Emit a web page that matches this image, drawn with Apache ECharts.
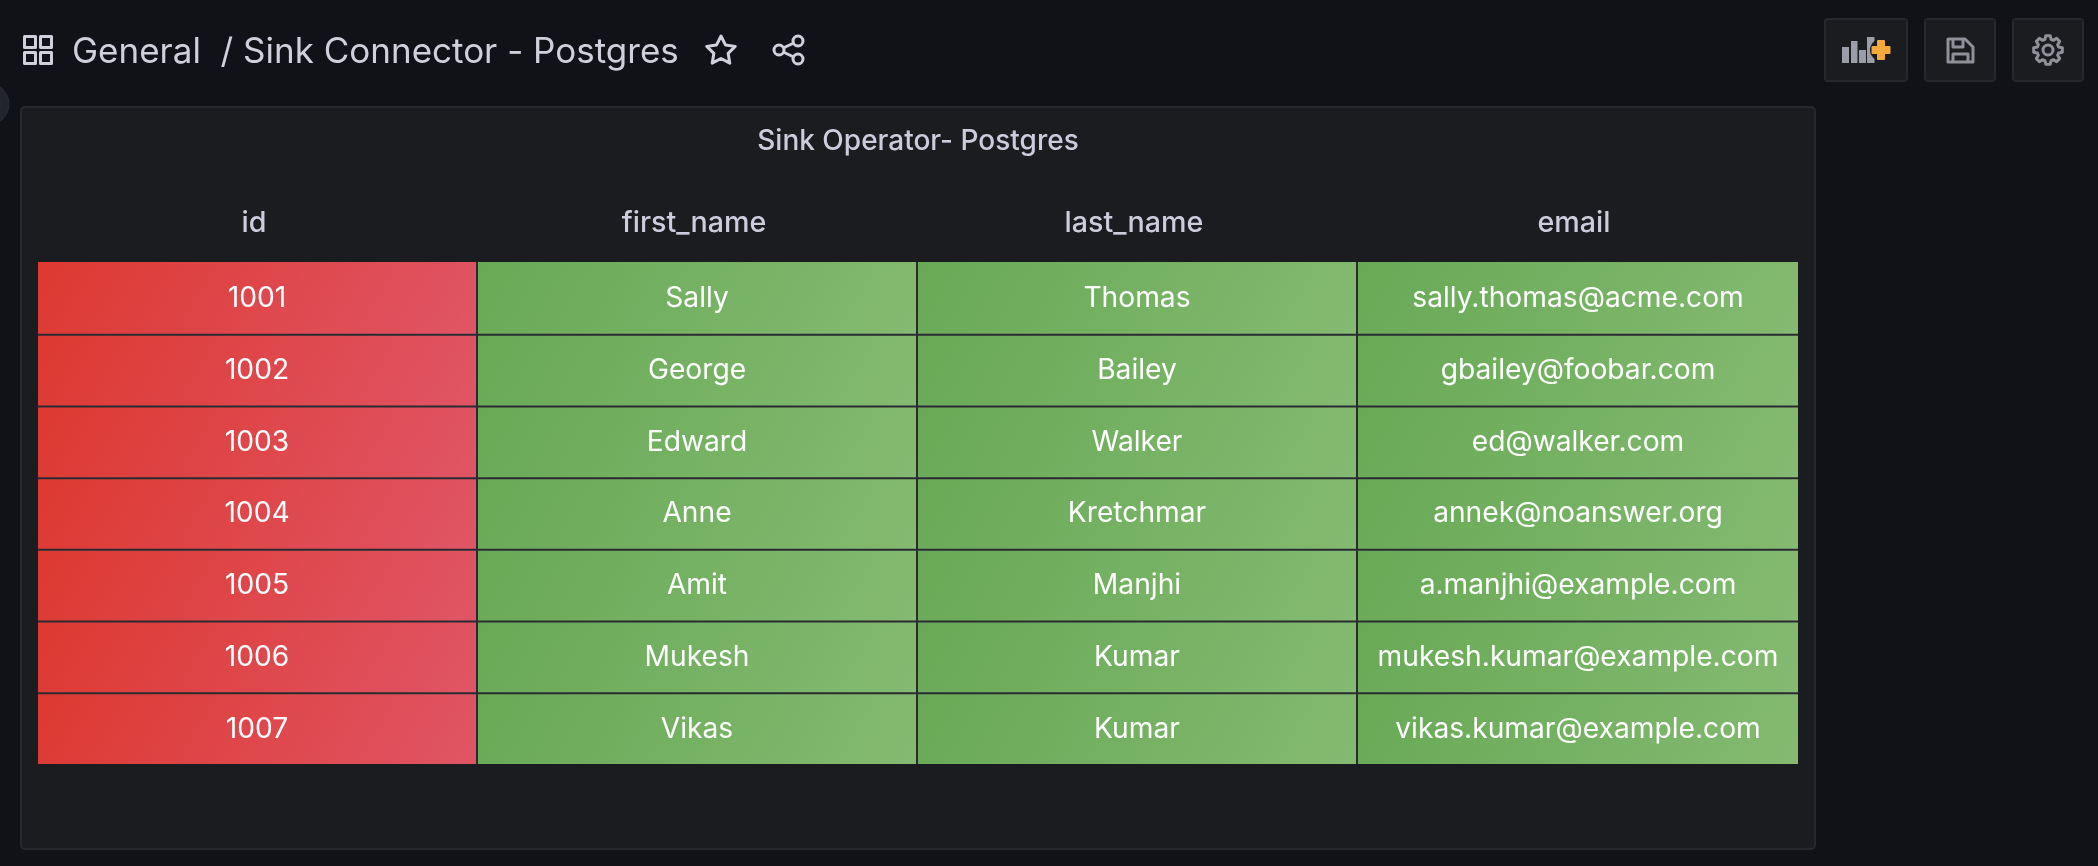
<!DOCTYPE html>
<html>
<head>
<meta charset="utf-8">
<title>Sink Connector - Postgres</title>
<script src="https://cdn.jsdelivr.net/npm/echarts@6/dist/echarts.min.js"></script>
<style>
  html, body { margin: 0; padding: 0; background: #111217; }
  #main { width: 2098px; height: 866px; }
</style>
</head>
<body>
<div id="main"></div>
<script type="text/javascript">
// table content
var columns = ['id', 'first_name', 'last_name', 'email'];
var ids = ['1001', '1002', '1003', '1004', '1005', '1006', '1007'];
var firstNames = ['Sally', 'George', 'Edward', 'Anne', 'Amit', 'Mukesh', 'Vikas'];
var lastNames = ['Thomas', 'Bailey', 'Walker', 'Kretchmar', 'Manjhi', 'Kumar', 'Kumar'];
var emails = ['sally.thomas@acme.com', 'gbailey@foobar.com', 'ed@walker.com', 'annek@noanswer.org',
  'a.manjhi@example.com', 'mukesh.kumar@example.com', 'vikas.kumar@example.com'];

var FONT = 'Inter';
var TEXT = '#ccccdc';
var ICON = '#8f9098';
var CHROME = '#1a1c20';
var EDGE = '#26282d';

// cell colours, left to right end of the gradient
var redStops = ['#dd3931', '#e05565'];
var greenStops = ['#68a956', '#84ba71'];

var rows = [ids, firstNames, lastNames, emails];
var cells = [];
rows.forEach(function (list, col) {
  list.forEach(function (text, row) {
    cells.push({ value: [col, row], text: text });
  });
});

// same as css linear-gradient(120deg, ...) for a box
function cellGradient(x, y, w, h, stops) {
  var a = 120 * Math.PI / 180;
  var half = (Math.abs(w * Math.sin(a)) + Math.abs(h * Math.cos(a))) / 2;
  var cx = x + w / 2, cy = y + h / 2;
  var dx = Math.sin(a) * half, dy = -Math.cos(a) * half;
  return new echarts.graphic.LinearGradient(cx - dx, cy - dy, cx + dx, cy + dy, [
    { offset: 0, color: stops[0] },
    { offset: 1, color: stops[1] }
  ], true);
}

function renderCell(params, api) {
  var col = api.value(0), row = api.value(1);
  var c = api.coord([col, row]);
  var size = api.size([1, 1]);
  var x = c[0] - size[0] / 2, y = c[1] - size[1] / 2;
  var w = size[0] - (col < columns.length - 1 ? 2 : 0);
  var h = size[1];
  // 2px separator above every row but the first
  if (row > 0) { y += 2; h -= 2; }
  return {
    type: 'group',
    children: [{
      type: 'rect',
      shape: { x: x, y: y, width: w, height: h },
      style: { fill: cellGradient(x, y, w, h, col === 0 ? redStops : greenStops) }
    }, {
      type: 'text',
      style: {
        text: cells[params.dataIndex].text,
        x: c[0] - (col < columns.length - 1 ? 1 : 0), y: c[1] + 1,
        align: 'center', verticalAlign: 'middle',
        fill: '#ffffff',
        font: '400 28.2px ' + FONT
      }
    }]
  };
}

function button(x, y, w, h) {
  return {
    type: 'rect', z: 1,
    shape: { x: x + 1, y: y + 1, width: w - 2, height: h - 2, r: 3 },
    style: { fill: CHROME, stroke: EDGE, lineWidth: 2 }
  };
}

function gearPoints(cx, cy, ro, ri, teeth) {
  var pts = [];
  for (var i = 0; i < teeth; i++) {
    var step = Math.PI * 2 / teeth;
    var t = i * step - Math.PI / 2;
    [[-0.30, ri], [-0.16, ro], [0.16, ro], [0.30, ri]].forEach(function (p) {
      var ang = t + p[0] * step * 1.2;
      pts.push([cx + Math.cos(ang) * p[1], cy + Math.sin(ang) * p[1]]);
    });
  }
  return pts;
}

function starPoints(cx, cy, ro, ri) {
  var pts = [];
  for (var i = 0; i < 10; i++) {
    var r = i % 2 ? ri : ro;
    var ang = -Math.PI / 2 + i * Math.PI / 5;
    pts.push([cx + Math.cos(ang) * r, cy + Math.sin(ang) * r]);
  }
  return pts;
}

var stroke = function (color, width) {
  return { fill: 'none', stroke: color, lineWidth: width, lineJoin: 'round' };
};

var graphics = [
  // panel
  { type: 'rect', z: -1, shape: { x: 21, y: 107, width: 1794, height: 742, r: 4 },
    style: { fill: CHROME, stroke: EDGE, lineWidth: 2 } },
  // side menu toggle cut by the window edge
  { type: 'circle', z: 1, shape: { cx: -12, cy: 104, r: 21 },
    style: { fill: '#22252b', stroke: '#2b2d32', lineWidth: 1 } },

  // dashboard grid icon
  { type: 'rect', shape: { x: 24.5, y: 36.5, width: 11, height: 11 }, style: stroke('#d0d0dc', 3) },
  { type: 'rect', shape: { x: 40.5, y: 36.5, width: 11, height: 11 }, style: stroke('#d0d0dc', 3) },
  { type: 'rect', shape: { x: 24.5, y: 52.5, width: 11, height: 11 }, style: stroke('#d0d0dc', 3) },
  { type: 'rect', shape: { x: 40.5, y: 52.5, width: 11, height: 11 }, style: stroke('#d0d0dc', 3) },

  // star
  { type: 'polygon', shape: { points: starPoints(721, 51, 15, 7.5) }, style: stroke('#d0d0dc', 3) },

  // share
  { type: 'line', shape: { x1: 779, y1: 50, x2: 798, y2: 41 }, style: stroke('#d0d0dc', 3) },
  { type: 'line', shape: { x1: 779, y1: 50, x2: 798, y2: 59 }, style: stroke('#d0d0dc', 3) },
  { type: 'circle', z: 2, shape: { cx: 779, cy: 50, r: 5 }, style: { fill: '#111217', stroke: '#d0d0dc', lineWidth: 3 } },
  { type: 'circle', z: 2, shape: { cx: 798, cy: 41, r: 5 }, style: { fill: '#111217', stroke: '#d0d0dc', lineWidth: 3 } },
  { type: 'circle', z: 2, shape: { cx: 798, cy: 59, r: 5 }, style: { fill: '#111217', stroke: '#d0d0dc', lineWidth: 3 } },

  // toolbar buttons
  button(1824, 18, 84, 64),
  button(1924, 18, 72, 64),
  button(2012, 18, 72, 64),

  // add panel icon
  { type: 'rect', z: 2, shape: { x: 1842, y: 47, width: 7, height: 16 }, style: { fill: '#9b9da8' } },
  { type: 'rect', z: 2, shape: { x: 1851, y: 41, width: 6.5, height: 22 }, style: { fill: '#9b9da8' } },
  { type: 'rect', z: 2, shape: { x: 1859, y: 50, width: 7, height: 13 }, style: { fill: '#9b9da8' } },
  { type: 'rect', z: 2, shape: { x: 1867, y: 37, width: 7.5, height: 26 }, style: { fill: '#9b9da8' } },
  { type: 'circle', z: 3, shape: { cx: 1881, cy: 50, r: 11 }, style: { fill: CHROME } },
  { type: 'rect', z: 4, shape: { x: 1871.5, y: 46, width: 19, height: 8, r: 1 }, style: { fill: '#f5a83c' } },
  { type: 'rect', z: 4, shape: { x: 1877, y: 40, width: 8, height: 20, r: 1 }, style: { fill: '#f5a83c' } },

  // save icon
  { type: 'polygon', z: 2, shape: { points: [[1948, 39], [1965, 39], [1973, 47], [1973, 62], [1948, 62]] },
    style: stroke(ICON, 3) },
  { type: 'polyline', z: 2, shape: { points: [[1953, 40], [1953, 47], [1963, 47], [1963, 40]] },
    style: stroke(ICON, 3) },
  { type: 'polyline', z: 2, shape: { points: [[1953, 62], [1953, 54], [1968, 54], [1968, 62]] },
    style: stroke(ICON, 3) },

  // gear icon
  { type: 'polygon', z: 2, shape: { points: gearPoints(2048, 50, 14.5, 11, 8) }, style: stroke(ICON, 3) },
  { type: 'circle', z: 2, shape: { cx: 2048, cy: 50, r: 5 }, style: stroke(ICON, 3) }
];

var myChart = echarts.init(document.getElementById('main'));
var option = {
  animation: false,
  backgroundColor: '#111217',
  title: [{
    text: 'General  / Sink Connector - Postgres',
    left: 67, top: 30,
    textStyle: { color: '#d0d0dc', fontFamily: FONT, fontSize: 35, fontWeight: 400 }
  }, {
    text: 'Sink Operator- Postgres',
    left: 913, top: 123, textAlign: 'center',
    textStyle: { color: TEXT, fontFamily: FONT, fontSize: 28, fontWeight: 500 }
  }],
  graphic: { elements: graphics },
  grid: {
    left: 38, top: 262, width: 1760, height: 502,
    show: true, backgroundColor: '#2a2a33', borderWidth: 0
  },
  xAxis: {
    type: 'category',
    position: 'top',
    data: columns,
    axisLine: { show: false },
    axisTick: { show: false },
    splitLine: { show: false },
    axisLabel: {
      color: TEXT, fontFamily: FONT, fontSize: 28.7, fontWeight: 500,
      margin: 24, padding: [0, 8, 0, 0]
    }
  },
  yAxis: {
    type: 'category',
    inverse: true,
    data: ids,
    show: false
  },
  series: [{
    type: 'custom',
    coordinateSystem: 'cartesian2d',
    renderItem: renderCell,
    encode: { x: 0, y: 1 },
    data: cells
  }]
};
myChart.setOption(option);
</script>
</body>
</html>
